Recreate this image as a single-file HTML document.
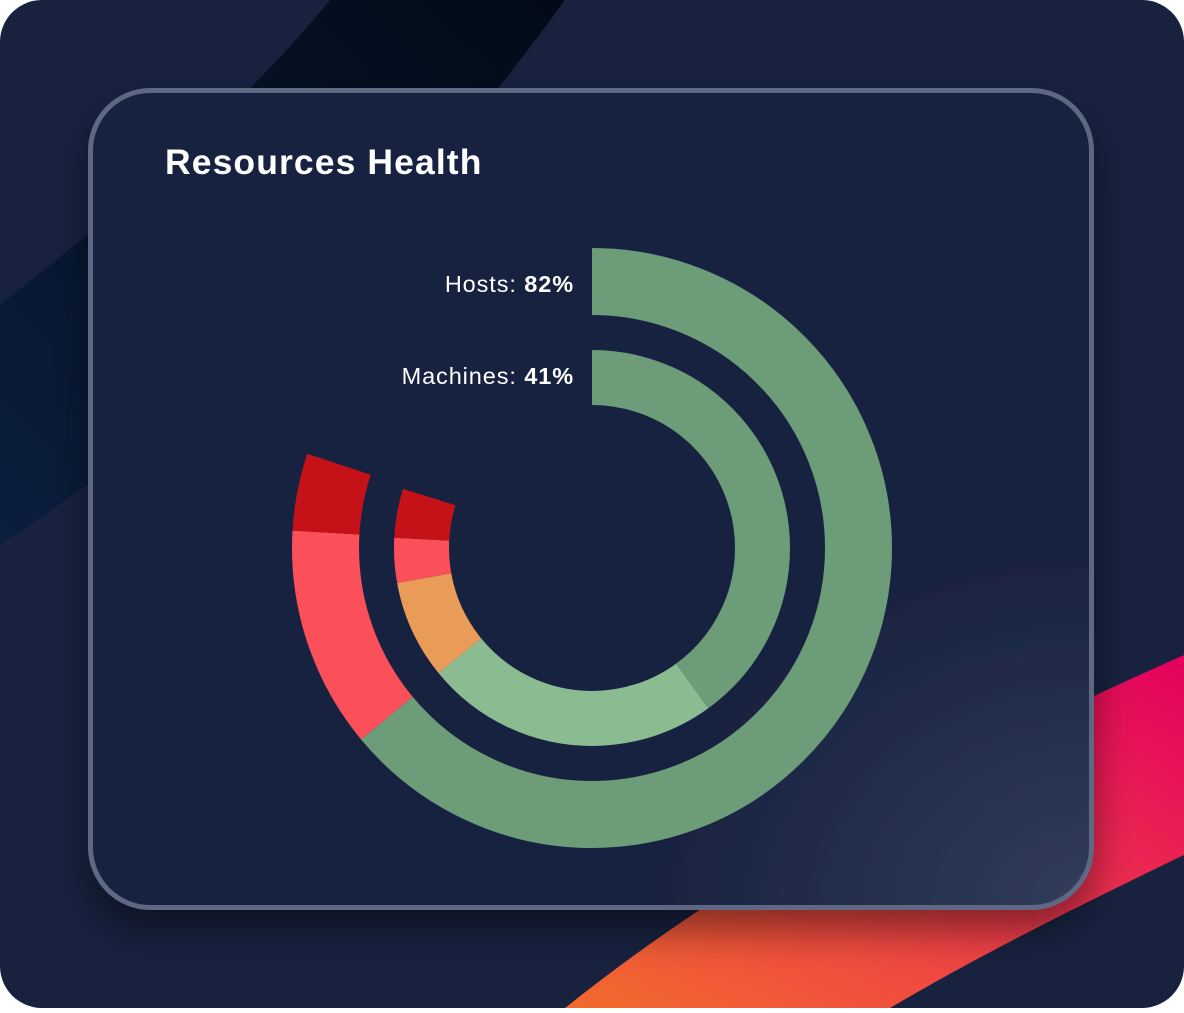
<!DOCTYPE html>
<html><head><meta charset="utf-8"><style>
html,body{margin:0;padding:0;background:#fff;}
body{width:1184px;height:1008px;overflow:hidden;font-family:"Liberation Sans",sans-serif;}
</style></head><body>
<svg width="1184" height="1008" viewBox="0 0 1184 1008" xmlns="http://www.w3.org/2000/svg">
<defs>
<clipPath id="outer"><rect x="0" y="0" width="1184" height="1008" rx="42"/></clipPath>
<linearGradient id="band" x1="0" y1="1" x2="1" y2="0">
<stop offset="0" stop-color="#f26a2c"/><stop offset="0.5" stop-color="#ee3a4a"/><stop offset="1" stop-color="#e4005e"/>
</linearGradient>
<linearGradient id="dark" x1="1" y1="0" x2="0" y2="1">
<stop offset="0" stop-color="#020a16"/><stop offset="1" stop-color="#0a1e3e"/>
</linearGradient>
<radialGradient id="cardg" cx="1" cy="1" r="0.45">
<stop offset="0" stop-color="#323d5a"/><stop offset="1" stop-color="#18223f"/>
</radialGradient>
<filter id="sh" x="-10%" y="-10%" width="120%" height="130%"><feDropShadow dx="0" dy="20" stdDeviation="20" flood-color="#000" flood-opacity="0.45"/></filter>
</defs>
<g clip-path="url(#outer)">
<rect width="1184" height="1008" fill="#18223f"/>
<path d="M330 0 L565 0 C420 200 250 380 0 545 L0 305 C120 210 240 110 330 0 Z" fill="url(#dark)"/>
<path d="M565 1008 C750 860 950 760 1184 655 L1184 855 C1080 905 980 955 890 1008 Z" fill="url(#band)"/>
<rect x="90.5" y="90.5" width="1001" height="817" rx="60" fill="url(#cardg)" stroke="#5d6782" stroke-width="5" filter="url(#sh)"/>
</g>
<text x="165" y="174" font-size="35.5" font-weight="bold" letter-spacing="1.1" fill="#fff">Resources Health</text>
<g font-size="23.5" fill="#fff" text-anchor="end" letter-spacing="0.9">
<text x="574" y="292">Hosts: <tspan font-weight="bold">82%</tspan></text>
<text x="574" y="384">Machines: <tspan font-weight="bold">41%</tspan></text>
</g>
<g transform="translate(592 548) rotate(-90)" fill="none">
<circle r="266.5" stroke-width="67" pathLength="360" stroke="#6c9c78" stroke-dasharray="230.4 360"/>
<circle r="266.5" stroke-width="67" pathLength="360" stroke="#fb505a" stroke-dasharray="43 360" stroke-dashoffset="-230.4"/>
<circle r="266.5" stroke-width="67" pathLength="360" stroke="#c51218" stroke-dasharray="15 360" stroke-dashoffset="-273.4"/>
<circle r="170.5" stroke-width="55" pathLength="360" stroke="#6c9c78" stroke-dasharray="144 360"/>
<circle r="170.5" stroke-width="55" pathLength="360" stroke="#8bbc91" stroke-dasharray="86.8 360" stroke-dashoffset="-144"/>
<circle r="170.5" stroke-width="55" pathLength="360" stroke="#e89c58" stroke-dasharray="29 360" stroke-dashoffset="-230.8"/>
<circle r="170.5" stroke-width="55" pathLength="360" stroke="#fb505a" stroke-dasharray="13.2 360" stroke-dashoffset="-259.8"/>
<circle r="170.5" stroke-width="55" pathLength="360" stroke="#c51218" stroke-dasharray="14.4 360" stroke-dashoffset="-273"/>
</g>
</svg>
</body></html>
